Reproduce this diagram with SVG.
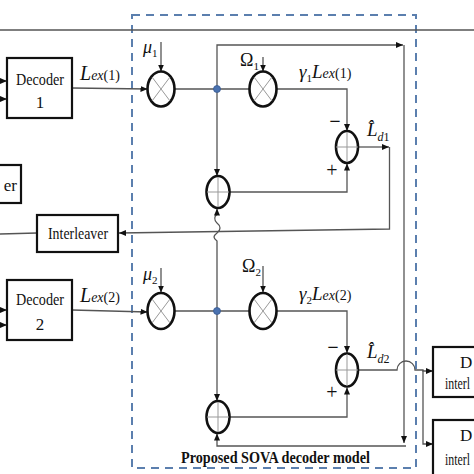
<svg xmlns="http://www.w3.org/2000/svg" width="474" height="474" viewBox="0 0 474 474">
<defs>
<marker id="ah" markerWidth="8" markerHeight="8" refX="7" refY="4" orient="auto" markerUnits="userSpaceOnUse">
<path d="M0,1 L7,4 L0,7 Z" fill="#111"/>
</marker>
<style>
.ln{fill:none;stroke:#555;stroke-width:1.3}
.box{fill:#fff;stroke:#111;stroke-width:2.2}
.op{fill:#fff;stroke:#111;stroke-width:2.6}
.x{stroke:#999;stroke-width:1}
.t{font-family:"Liberation Serif","Times New Roman",serif;fill:#111}
.it{font-style:italic}
.dot{fill:#4a72b0;stroke:#3a5a90;stroke-width:0.8}
</style>
</defs>
<rect width="474" height="474" fill="#fff"/>

<!-- dashed model boundary -->
<rect x="132" y="15" width="284" height="453" fill="none" stroke="#5b7fae" stroke-width="2" stroke-dasharray="8,6"/>

<g id="connectors">
<line class="ln" x1="0" y1="30" x2="474" y2="30"/>
<line class="ln" x1="0" y1="81" x2="7" y2="81" marker-end="url(#ah)"/>
<line class="ln" x1="0" y1="99" x2="7" y2="99" marker-end="url(#ah)"/>
<line class="ln" x1="0" y1="310" x2="7" y2="310" marker-end="url(#ah)"/>
<line class="ln" x1="0" y1="325" x2="7" y2="325" marker-end="url(#ah)"/>
<line class="ln" x1="72" y1="88" x2="147.5" y2="89" marker-end="url(#ah)"/>
<line class="ln" x1="72" y1="310" x2="147.5" y2="312" marker-end="url(#ah)"/>
<line class="ln" x1="161" y1="42" x2="161" y2="71.5" marker-end="url(#ah)"/>
<line class="ln" x1="263" y1="57" x2="263" y2="71.5" marker-end="url(#ah)"/>
<line class="ln" x1="161" y1="268" x2="161" y2="292.5" marker-end="url(#ah)"/>
<line class="ln" x1="263" y1="266" x2="263" y2="292.5" marker-end="url(#ah)"/>
<line class="ln" x1="174.5" y1="89" x2="249.5" y2="89"/>
<line class="ln" x1="174.5" y1="311" x2="249.5" y2="311"/>
<path class="ln" d="M217,89 V45 H403" marker-end="url(#ah)"/>
<path class="ln" d="M404,45 V443" marker-end="url(#ah)"/>
<path class="ln" d="M406,446 H217 V433.5" marker-end="url(#ah)"/>
<path class="ln" d="M276.5,89 H347 V131" marker-end="url(#ah)"/>
<path class="ln" d="M276.5,311 H347 V353" marker-end="url(#ah)"/>
<path class="ln" d="M217,89 V176" marker-end="url(#ah)"/>
<path class="ln" d="M217,311 V401" marker-end="url(#ah)"/>
<path class="ln" d="M229.5,192 H347 V163.5" marker-end="url(#ah)"/>
<path class="ln" d="M229.5,417 H347 V387.5" marker-end="url(#ah)"/>
<path class="ln" d="M358,147 H389" marker-end="url(#ah)"/>
<path class="ln" d="M389.5,147 V229 L119,233" marker-end="url(#ah)"/>
<line class="ln" x1="37" y1="233" x2="0" y2="234"/>
<path class="ln" d="M217,311 V241 C213,238 213,236 217,233 C221,230 221,226 217,223 C214,220 214,217 217,214 V208.5" marker-end="url(#ah)"/>
<path class="ln" d="M358,370 H397 A9,9 0 0 1 415,370 H423 V371 H433" marker-end="url(#ah)"/>
<path class="ln" d="M423,370 V444 H433" marker-end="url(#ah)"/>
</g>

<g id="decoder1">
<rect class="box" x="7" y="58" width="65" height="60"/>
<text class="t" x="40" y="85" font-size="17" text-anchor="middle" textLength="48" lengthAdjust="spacingAndGlyphs">Decoder</text>
<text class="t" x="40" y="108" font-size="17" text-anchor="middle">1</text>
</g>
<g id="decoder2">
<rect class="box" x="7" y="280" width="65" height="60"/>
<text class="t" x="40" y="305" font-size="17" text-anchor="middle" textLength="48" lengthAdjust="spacingAndGlyphs">Decoder</text>
<text class="t" x="40" y="330" font-size="17" text-anchor="middle">2</text>
</g>
<g id="interleaver">
<rect class="box" x="37" y="215" width="81" height="37"/>
<text class="t" x="78" y="239" font-size="17" text-anchor="middle" textLength="60" lengthAdjust="spacingAndGlyphs">Interleaver</text>
</g>
<g id="deinterleaver-left">
<rect class="box" x="-62" y="165" width="83" height="38"/>
<text class="t" x="17" y="191" font-size="17" text-anchor="end">er</text>
</g>
<g id="deinterleaver-top">
<rect class="box" x="433" y="347" width="60" height="50"/>
<text class="t" x="460" y="368" font-size="17">D</text>
<text class="t" x="445" y="389" font-size="17" textLength="25" lengthAdjust="spacingAndGlyphs">interl</text>
</g>
<g id="deinterleaver-bottom">
<rect class="box" x="433" y="420" width="60" height="60"/>
<text class="t" x="460" y="441" font-size="17">D</text>
<text class="t" x="445" y="465" font-size="17" textLength="25" lengthAdjust="spacingAndGlyphs">interl</text>
</g>

<g id="mult-mu1">
<ellipse class="op" cx="161" cy="89" rx="13.5" ry="17.5"/>
<line class="x" x1="152" y1="77" x2="170" y2="101"/><line class="x" x1="170" y1="77" x2="152" y2="101"/>
<text class="t it" x="143" y="53" font-size="18">μ<tspan font-size="11" font-style="normal" dy="4">1</tspan></text>
</g>
<g id="mult-omega1">
<ellipse class="op" cx="263" cy="89" rx="13.5" ry="17.5"/>
<line class="x" x1="254" y1="77" x2="272" y2="101"/><line class="x" x1="272" y1="77" x2="254" y2="101"/>
<text class="t" x="240" y="66" font-size="18">Ω<tspan font-size="11" dy="4">1</tspan></text>
</g>
<g id="mult-mu2">
<ellipse class="op" cx="161" cy="311" rx="13.5" ry="18"/>
<line class="x" x1="152" y1="299" x2="170" y2="323"/><line class="x" x1="170" y1="299" x2="152" y2="323"/>
<text class="t it" x="143" y="280" font-size="18">μ<tspan font-size="11" font-style="normal" dy="4">2</tspan></text>
</g>
<g id="mult-omega2">
<ellipse class="op" cx="263" cy="311" rx="13.5" ry="18"/>
<line class="x" x1="254" y1="299" x2="272" y2="323"/><line class="x" x1="272" y1="299" x2="254" y2="323"/>
<text class="t" x="242" y="272" font-size="18">Ω<tspan font-size="11" dy="4">2</tspan></text>
</g>

<g id="junctions">
<circle class="dot" cx="217" cy="89" r="3.5"/>
<circle class="dot" cx="217" cy="311" r="3.5"/>
</g>

<g id="adder1">
<ellipse class="op" cx="218" cy="192" rx="11.5" ry="16"/>
<line class="x" x1="207" y1="192" x2="229" y2="192"/><line class="x" x1="218" y1="177" x2="218" y2="207"/>
</g>
<g id="adder2">
<ellipse class="op" cx="218" cy="417" rx="11.5" ry="16"/>
<line class="x" x1="207" y1="417" x2="229" y2="417"/><line class="x" x1="218" y1="402" x2="218" y2="432"/>
</g>
<g id="sub1">
<ellipse class="op" cx="347" cy="147" rx="11" ry="16"/>
<line class="x" x1="336" y1="147" x2="358" y2="147"/><line class="x" x1="347" y1="132" x2="347" y2="162"/>
<text class="t" x="335" y="128" font-size="20" font-weight="bold" text-anchor="middle">−</text>
<text class="t" x="332" y="177" font-size="20" text-anchor="middle">+</text>
</g>
<g id="sub2">
<ellipse class="op" cx="347" cy="370" rx="11" ry="16.5"/>
<line class="x" x1="336" y1="370" x2="358" y2="370"/><line class="x" x1="347" y1="354" x2="347" y2="386"/>
<text class="t" x="333" y="354" font-size="20" font-weight="bold" text-anchor="middle">−</text>
<text class="t" x="332" y="399" font-size="20" text-anchor="middle">+</text>
</g>

<g id="labels">
<text class="t it" x="80" y="80" font-size="20">L<tspan font-size="14">ex</tspan><tspan font-size="14" font-style="normal">(1)</tspan></text>
<text class="t it" x="80" y="302" font-size="20">L<tspan font-size="14">ex</tspan><tspan font-size="14" font-style="normal">(2)</tspan></text>
<text class="t it" x="299" y="78" font-size="19">γ<tspan font-size="11" font-style="normal" dy="4">1</tspan><tspan dy="-4">L</tspan><tspan font-size="14">ex</tspan><tspan font-size="14" font-style="normal">(1)</tspan></text>
<text class="t it" x="299" y="300" font-size="19">γ<tspan font-size="11" font-style="normal" dy="4">2</tspan><tspan dy="-4">L</tspan><tspan font-size="14">ex</tspan><tspan font-size="14" font-style="normal">(2)</tspan></text>
<text class="t it" x="367" y="136" font-size="19">L̂<tspan font-size="12" dy="5">d</tspan><tspan font-size="12" font-style="normal">1</tspan></text>
<text class="t it" x="367" y="358" font-size="19">L̂<tspan font-size="12" dy="5">d</tspan><tspan font-size="12" font-style="normal">2</tspan></text>
<text class="t" x="181" y="463" font-size="17" font-weight="bold" textLength="189" lengthAdjust="spacingAndGlyphs">Proposed SOVA decoder model</text>
</g>
</svg>
